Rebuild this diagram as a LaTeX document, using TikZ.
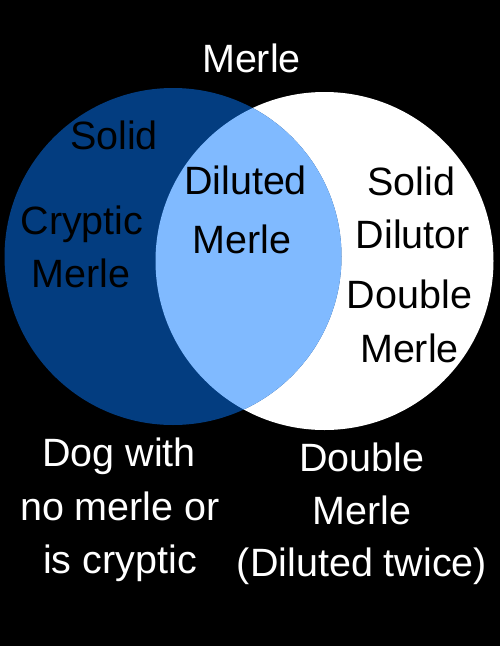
\documentclass[tikz,border=0pt]{standalone}
\usepackage{fontspec}
\setmainfont{Liberation Sans}
\definecolor{darkblue}{HTML}{033D80}
\definecolor{lightblue}{HTML}{80BAFF}
\begin{document}
\begin{tikzpicture}[x=1pt,y=-1pt,
  lbl/.style={anchor=base,inner sep=0pt,font=\fontsize{39.5}{47}\selectfont},
  inlbl/.style={lbl,text=black},
  outlbl/.style={lbl,text=white}]
\fill[black] (0,0) rectangle (500,646);
\useasboundingbox (0,0) rectangle (500,646);
\coordinate (cl) at (173,256.5);
\coordinate (cr) at (324.5,261);
\fill[white] (cr) circle[radius=169];
\fill[darkblue] (cl) circle[radius=168.5];
\begin{scope}
  \clip (cl) circle[radius=168.5];
  \fill[lightblue] (cr) circle[radius=169];
\end{scope}
% labels
\node[outlbl] (top) at (251.5,72.7) {Merle};
\node[inlbl] (lsolid) at (114,149) {Solid};
\node[inlbl] (lcryp) at (82,234) {Cryptic};
\node[inlbl] (lmerle) at (81,287) {Merle};
\node[inlbl] (cdil) at (245.5,194) {Diluted};
\node[inlbl] (cmerle) at (242,253) {Merle};
\node[inlbl] (rsolid) at (411.5,195.7) {Solid};
\node[inlbl] (rdilutor) at (413,248) {Dilutor};
\node[inlbl] (rdouble) at (409.5,308) {Double};
\node[inlbl] (rmerle) at (409.5,362) {Merle};
\node[outlbl] (bl1) at (119,466.7) {Dog with};
\node[outlbl] (bl2) at (120,520) {no merle or};
\node[outlbl] (bl3) at (120,573.3) {is cryptic};
\node[outlbl] (br1) at (362,471.7) {Double};
\node[outlbl] (br2) at (362,524.3) {Merle};
\node[outlbl] (br3) at (362,576.7) {(Diluted twice)};
\end{tikzpicture}
\end{document}
